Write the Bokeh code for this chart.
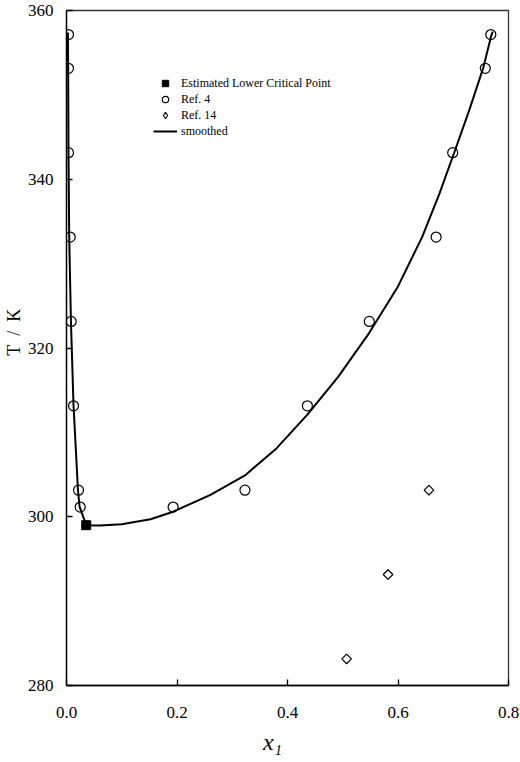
import math
from bokeh.plotting import figure
from bokeh.models import Range1d, FixedTicker, Legend, LegendItem, PrintfTickFormatter
from bokeh.embed import file_html
from bokeh.resources import INLINE

# ---- data ----
ref4_x = [0.0036, 0.0036, 0.0036, 0.0067, 0.0085, 0.0127, 0.0218, 0.0248,
          0.193, 0.323, 0.436, 0.548, 0.669, 0.699, 0.758, 0.768]
ref4_T = [357.15, 353.15, 343.15, 333.15, 323.15, 313.15, 303.15, 301.15,
          301.15, 303.15, 313.15, 323.15, 333.15, 343.15, 353.15, 357.15]

ref14_x = [0.507, 0.582, 0.656]
ref14_T = [283.15, 293.15, 303.15]

crit_x = [0.0357]
crit_T = [299.0]

smooth_x = [0.0025, 0.0030, 0.0036, 0.0049, 0.0080, 0.0127, 0.0207, 0.0236, 0.0357,
            0.06, 0.10, 0.152, 0.193, 0.2606, 0.323, 0.380, 0.436, 0.492, 0.548,
            0.600, 0.644, 0.675, 0.702, 0.729, 0.7543, 0.7683, 0.7713]
smooth_T = [357.4, 353.2, 343.2, 333.2, 323.2, 313.2, 303.2, 301.2, 299.0,
            298.95, 299.1, 299.7, 300.6, 302.6, 304.9, 308.1, 312.1, 316.6, 321.8,
            327.3, 333.2, 338.3, 343.2, 348.2, 353.2, 356.9, 357.5]

x_ticks = [0.0, 0.2, 0.4, 0.6, 0.8]
y_ticks = [280, 300, 320, 340, 360]

legend_labels = ["Estimated Lower Critical Point", "Ref. 4", "Ref. 14", "smoothed"]

FONT = "Liberation Serif"
W, H = 520, 762
NB = "\u00a0"

p = figure(width=W, height=H, output_backend="svg", toolbar_location=None,
           x_range=Range1d(0, 0.8), y_range=Range1d(280, 360),
           min_border_left=66, min_border_right=12, min_border_top=10, min_border_bottom=77)
p.grid.visible = False
p.outline_line_color = "#333333"
p.outline_line_width = 1.3
p.background_fill_color = "white"
p.border_fill_color = "white"

for ax in (p.xaxis[0], p.yaxis[0]):
    ax.axis_line_color = "black"
    ax.axis_line_width = 1.3
    ax.major_tick_in = 6
    ax.major_tick_out = 0
    ax.major_tick_line_color = "black"
    ax.major_tick_line_width = 1.3
    ax.minor_tick_line_color = None
    ax.major_label_text_font = FONT
    ax.major_label_text_font_size = "17px"
    ax.major_label_text_color = "black"
    ax.axis_label_text_font = FONT
    ax.axis_label_text_color = "black"

p.xaxis.ticker = FixedTicker(ticks=x_ticks)
p.yaxis.ticker = FixedTicker(ticks=y_ticks)
p.xaxis.formatter = PrintfTickFormatter(format="%.1f")
p.yaxis.formatter = PrintfTickFormatter(format="%d")
p.xaxis.major_label_standoff = 21
p.yaxis.major_label_standoff = 13

p.yaxis.axis_label = NB * 7 + "T" + NB * 2 + "/" + NB * 2 + "K"
p.yaxis.axis_label_text_font_size = "18px"
p.yaxis.axis_label_text_font_style = "normal"
p.yaxis.axis_label_standoff = 1

p.xaxis.axis_label = "x\u2081" + NB * 5
p.xaxis.axis_label_text_font_size = "24px"
p.xaxis.axis_label_text_font_style = "italic"
p.xaxis.axis_label_standoff = 8

r_ref4 = p.scatter(ref4_x, ref4_T, marker="circle", size=10, fill_alpha=0,
                   line_color="black", line_width=1.2)
# narrow diamond underneath (used as the legend symbol), covered by a rotated square
r_ref14_leg = p.scatter(ref14_x, ref14_T, marker="diamond", size=9, fill_alpha=0,
                        line_color="black", line_width=1.1)
r_ref14 = p.scatter(ref14_x, ref14_T, marker="square", angle=math.pi / 4, size=6.8,
                    fill_color="white", line_color="black", line_width=1.2)
r_line = p.line(smooth_x, smooth_T, line_color="black", line_width=2)
r_crit = p.scatter(crit_x, crit_T, marker="square", size=9, fill_color="black",
                   line_color="black")

legend = Legend(items=[
    LegendItem(label=legend_labels[0], renderers=[r_crit]),
    LegendItem(label=legend_labels[1], renderers=[r_ref4]),
    LegendItem(label=legend_labels[2], renderers=[r_ref14_leg]),
    LegendItem(label=legend_labels[3], renderers=[r_line]),
], location=(87, 546))
legend.border_line_color = None
legend.background_fill_alpha = 0
legend.padding = 0
legend.margin = 0
legend.spacing = 0
legend.label_height = 16
legend.glyph_height = 16
legend.glyph_width = 24
legend.label_standoff = 4
legend.label_text_font = FONT
legend.label_text_font_size = "12px"
legend.label_text_color = "black"
p.add_layout(legend)

open("out.html", "w").write(file_html(p, INLINE))
